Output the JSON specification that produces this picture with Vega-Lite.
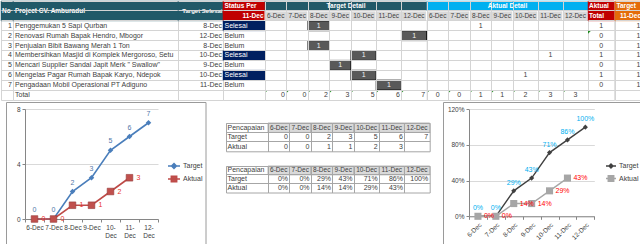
{
"$schema": "https://vega.github.io/schema/vega-lite/v6.json",
"padding": 0,
"background": "#FFFFFF",
"spacing": 0,
"bounds": "full",
"resolve": {"scale": {"color": "independent"}, "legend": {"color": "independent"}},
"config": {"view": {"stroke": null}, "font": "Liberation Sans", "text": {"fontSize": 7, "baseline": "middle"}},
"datasets": {
 "tbl": [
  {"r":"1","no":"1","project":"Penggemukan 5 Sapi Qurban","target":"8-Dec","status":"Selesai","ak":"1","tg":"1"},
  {"r":"2","no":"2","project":"Renovasi Rumah Bapak Hendro, Mbogor","target":"12-Dec","status":"Belum","ak":"0","tg":"1"},
  {"r":"3","no":"3","project":"Penjualan Bibit Bawang Merah 1 Ton","target":"8-Dec","status":"Belum","ak":"0","tg":"1"},
  {"r":"4","no":"4","project":"Membersihkan Masjid di Komplek Mergoroso, Setu","target":"10-Dec","status":"Selesai","ak":"1","tg":"1"},
  {"r":"5","no":"5","project":"Mencari Supplier Sandal Japit Merk \" Swallow\"","target":"9-Dec","status":"Belum","ak":"0","tg":"1"},
  {"r":"6","no":"6","project":"Mengelas Pagar Rumah Bapak Karyo, Ndepok","target":"10-Dec","status":"Selesai","ak":"1","tg":"1"},
  {"r":"7","no":"7","project":"Pengadaan Mobil Operasional PT Adiguno","target":"11-Dec","status":"Belum","ak":"0","tg":"1"},
  {"r":"Total","no":"","project":"Total","target":"","status":"","ak":"","tg":""}
 ],
 "days": [{"d":"6-Dec"},{"d":"7-Dec"},{"d":"8-Dec"},{"d":"9-Dec"},{"d":"10-Dec"},{"d":"11-Dec"},{"d":"12-Dec"}],
 "td": [
  {"r":"1","d":"8-Dec","v":"1"},{"r":"2","d":"12-Dec","v":"1"},{"r":"3","d":"8-Dec","v":"1"},{"r":"4","d":"10-Dec","v":"1"},
  {"r":"5","d":"9-Dec","v":"1"},{"r":"6","d":"10-Dec","v":"1"},{"r":"7","d":"11-Dec","v":"1"},
  {"r":"Total","d":"6-Dec","v":"0"},{"r":"Total","d":"7-Dec","v":"0"},{"r":"Total","d":"8-Dec","v":"2"},{"r":"Total","d":"9-Dec","v":"3"},
  {"r":"Total","d":"10-Dec","v":"5"},{"r":"Total","d":"11-Dec","v":"6"},{"r":"Total","d":"12-Dec","v":"7"}
 ],
 "ad": [
  {"r":"1","d":"8-Dec","v":"1"},{"r":"4","d":"11-Dec","v":"1"},{"r":"6","d":"10-Dec","v":"1"},
  {"r":"Total","d":"6-Dec","v":"0"},{"r":"Total","d":"7-Dec","v":"0"},{"r":"Total","d":"8-Dec","v":"1"},{"r":"Total","d":"9-Dec","v":"1"},
  {"r":"Total","d":"10-Dec","v":"2"},{"r":"Total","d":"11-Dec","v":"3"},{"r":"Total","d":"12-Dec","v":"3"}
 ],
 "ach": [
  {"s":"Target","d":"6-Dec","n":0,"p":0},{"s":"Target","d":"7-Dec","n":0,"p":0},{"s":"Target","d":"8-Dec","n":2,"p":0.2857},
  {"s":"Target","d":"9-Dec","n":3,"p":0.4286},{"s":"Target","d":"10-Dec","n":5,"p":0.7143},{"s":"Target","d":"11-Dec","n":6,"p":0.8571},
  {"s":"Target","d":"12-Dec","n":7,"p":1},
  {"s":"Aktual","d":"6-Dec","n":0,"p":0},{"s":"Aktual","d":"7-Dec","n":0,"p":0},{"s":"Aktual","d":"8-Dec","n":1,"p":0.1429},
  {"s":"Aktual","d":"9-Dec","n":1,"p":0.1429},{"s":"Aktual","d":"10-Dec","n":2,"p":0.2857},{"s":"Aktual","d":"11-Dec","n":3,"p":0.4286}
 ]
},
"vconcat": [
{
 "hconcat": [
  {"width": 12, "height": 99, "view": {"stroke": "#D4D4D4"}, "layer": [
   {"data": {"values": [{"r":"h1"},{"r":"h2"}]}, "mark": {"type":"rect","fill":"#215968","stroke":"#215968","strokeWidth":0.5},
    "encoding": {"y": {"field":"r","type":"nominal","scale":{"type":"band","domain":["h1","h2","1","2","3","4","5","6","7","Total"],"paddingInner":0,"paddingOuter":0},"axis":{"grid":true,"bandPosition":0,"labels":false,"ticks":false,"domain":false,"title":null,"gridColor":"#D4D4D4"}}}},
   {"data": {"values": [{"t":"No"}]}, "mark": {"type":"text","color":"#FFFFFF","fontWeight":"bold","fontSize":6.5,"align":"left","dx":1},
    "encoding": {"x": {"datum":"c","type":"nominal","bandPosition":0,"scale":{"type":"band","paddingInner":0,"paddingOuter":0},"axis":null},
     "y": {"datum":"h2","type":"nominal","bandPosition":0,"scale":{"type":"band","domain":["h1","h2","1","2","3","4","5","6","7","Total"],"paddingInner":0,"paddingOuter":0},"axis":{"grid":true,"bandPosition":0,"labels":false,"ticks":false,"domain":false,"title":null,"gridColor":"#D4D4D4"}},
     "text": {"field":"t"}}},
   {"data": {"name":"tbl"}, "mark": {"type":"text","align":"right","dx":-1,"color":"#404040"},
    "encoding": {"x": {"datum":"c","type":"nominal","bandPosition":1,"scale":{"type":"band","paddingInner":0,"paddingOuter":0},"axis":null},
     "y": {"field":"r","type":"nominal","scale":{"type":"band","domain":["h1","h2","1","2","3","4","5","6","7","Total"],"paddingInner":0,"paddingOuter":0},"axis":{"grid":true,"bandPosition":0,"labels":false,"ticks":false,"domain":false,"title":null,"gridColor":"#D4D4D4"}},
     "text": {"field":"no"}}}
  ]},
  {"width": 165, "height": 99, "view": {"stroke": "#D4D4D4"}, "layer": [
   {"data": {"values": [{"r":"h1"},{"r":"h2"}]}, "mark": {"type":"rect","fill":"#215968","stroke":"#215968","strokeWidth":0.5},
    "encoding": {"y": {"field":"r","type":"nominal","scale":{"type":"band","domain":["h1","h2","1","2","3","4","5","6","7","Total"],"paddingInner":0,"paddingOuter":0},"axis":{"grid":true,"bandPosition":0,"labels":false,"ticks":false,"domain":false,"title":null,"gridColor":"#D4D4D4"}}}},
   {"data": {"values": [{"t":"Project CV. Amburadul"}]}, "mark": {"type":"text","color":"#FFFFFF","fontWeight":"bold","fontSize":6.5,"align":"left","dx":2},
    "encoding": {"x": {"datum":"c","type":"nominal","bandPosition":0,"scale":{"type":"band","paddingInner":0,"paddingOuter":0},"axis":null},
     "y": {"datum":"h2","type":"nominal","bandPosition":0,"scale":{"type":"band","domain":["h1","h2","1","2","3","4","5","6","7","Total"],"paddingInner":0,"paddingOuter":0},"axis":{"grid":true,"bandPosition":0,"labels":false,"ticks":false,"domain":false,"title":null,"gridColor":"#D4D4D4"}},
     "text": {"field":"t"}}},
   {"data": {"name":"tbl"}, "mark": {"type":"text","align":"left","dx":2,"color":"#404040"},
    "encoding": {"x": {"datum":"c","type":"nominal","bandPosition":0,"scale":{"type":"band","paddingInner":0,"paddingOuter":0},"axis":null},
     "y": {"field":"r","type":"nominal","scale":{"type":"band","domain":["h1","h2","1","2","3","4","5","6","7","Total"],"paddingInner":0,"paddingOuter":0},"axis":{"grid":true,"bandPosition":0,"labels":false,"ticks":false,"domain":false,"title":null,"gridColor":"#D4D4D4"}},
     "text": {"field":"project"}}}
  ]},
  {"width": 45, "height": 99, "view": {"stroke": "#D4D4D4"}, "layer": [
   {"data": {"values": [{"r":"h1"},{"r":"h2"}]}, "mark": {"type":"rect","fill":"#215968","stroke":"#215968","strokeWidth":0.5},
    "encoding": {"y": {"field":"r","type":"nominal","scale":{"type":"band","domain":["h1","h2","1","2","3","4","5","6","7","Total"],"paddingInner":0,"paddingOuter":0},"axis":{"grid":true,"bandPosition":0,"labels":false,"ticks":false,"domain":false,"title":null,"gridColor":"#D4D4D4"}}}},
   {"data": {"values": [{"t":"Target Selesai"}]}, "mark": {"type":"text","color":"#FFFFFF","fontWeight":"bold","fontSize":6,"align":"right","dx":-0.5},
    "encoding": {"x": {"datum":"c","type":"nominal","bandPosition":1,"scale":{"type":"band","paddingInner":0,"paddingOuter":0},"axis":null},
     "y": {"datum":"h2","type":"nominal","bandPosition":0,"scale":{"type":"band","domain":["h1","h2","1","2","3","4","5","6","7","Total"],"paddingInner":0,"paddingOuter":0},"axis":{"grid":true,"bandPosition":0,"labels":false,"ticks":false,"domain":false,"title":null,"gridColor":"#D4D4D4"}},
     "text": {"field":"t"}}},
   {"data": {"name":"tbl"}, "mark": {"type":"text","align":"right","dx":-1,"color":"#404040"},
    "encoding": {"x": {"datum":"c","type":"nominal","bandPosition":1,"scale":{"type":"band","paddingInner":0,"paddingOuter":0},"axis":null},
     "y": {"field":"r","type":"nominal","scale":{"type":"band","domain":["h1","h2","1","2","3","4","5","6","7","Total"],"paddingInner":0,"paddingOuter":0},"axis":{"grid":true,"bandPosition":0,"labels":false,"ticks":false,"domain":false,"title":null,"gridColor":"#D4D4D4"}},
     "text": {"field":"target"}}}
  ]},
  {"width": 42, "height": 99, "view": {"stroke": "#D4D4D4"}, "layer": [
   {"data": {"values": [{"r":"h1"},{"r":"h2"}]}, "mark": {"type":"rect","fill":"#C00000","stroke":"#C00000","strokeWidth":0.5},
    "encoding": {"y": {"field":"r","type":"nominal","scale":{"type":"band","domain":["h1","h2","1","2","3","4","5","6","7","Total"],"paddingInner":0,"paddingOuter":0},"axis":{"grid":true,"bandPosition":0,"labels":false,"ticks":false,"domain":false,"title":null,"gridColor":"#D4D4D4"}}}},
   {"data": {"values": [{"t":"Status Per"}]}, "mark": {"type":"text","color":"#FFFFFF","fontWeight":"bold","fontSize":6.5,"align":"left","dx":1.5},
    "encoding": {"x": {"datum":"c","type":"nominal","bandPosition":0,"scale":{"type":"band","paddingInner":0,"paddingOuter":0},"axis":null},
     "y": {"datum":"h1","type":"nominal","scale":{"type":"band","domain":["h1","h2","1","2","3","4","5","6","7","Total"],"paddingInner":0,"paddingOuter":0},"axis":{"grid":true,"bandPosition":0,"labels":false,"ticks":false,"domain":false,"title":null,"gridColor":"#D4D4D4"}},
     "text": {"field":"t"}}},
   {"data": {"values": [{"t":"11-Dec"}]}, "mark": {"type":"text","color":"#FFFFFF","fontWeight":"bold","fontSize":6.5,"align":"right","dx":-1.5},
    "encoding": {"x": {"datum":"c","type":"nominal","bandPosition":1,"scale":{"type":"band","paddingInner":0,"paddingOuter":0},"axis":null},
     "y": {"datum":"h2","type":"nominal","scale":{"type":"band","domain":["h1","h2","1","2","3","4","5","6","7","Total"],"paddingInner":0,"paddingOuter":0},"axis":{"grid":true,"bandPosition":0,"labels":false,"ticks":false,"domain":false,"title":null,"gridColor":"#D4D4D4"}},
     "text": {"field":"t"}}},
   {"data": {"name":"tbl"}, "transform": [{"filter":"datum.status === 'Selesai'"}], "mark": {"type":"rect","fill":"#002060","stroke":"#002060","strokeWidth":0.5},
    "encoding": {"y": {"field":"r","type":"nominal","scale":{"type":"band","domain":["h1","h2","1","2","3","4","5","6","7","Total"],"paddingInner":0,"paddingOuter":0},"axis":{"grid":true,"bandPosition":0,"labels":false,"ticks":false,"domain":false,"title":null,"gridColor":"#D4D4D4"}}}},
   {"data": {"name":"tbl"}, "mark": {"type":"text","align":"left","dx":1.5},
    "encoding": {"x": {"datum":"c","type":"nominal","bandPosition":0,"scale":{"type":"band","paddingInner":0,"paddingOuter":0},"axis":null},
     "y": {"field":"r","type":"nominal","scale":{"type":"band","domain":["h1","h2","1","2","3","4","5","6","7","Total"],"paddingInner":0,"paddingOuter":0},"axis":{"grid":true,"bandPosition":0,"labels":false,"ticks":false,"domain":false,"title":null,"gridColor":"#D4D4D4"}},
     "color": {"condition": {"test": "datum.status === 'Selesai'", "value": "#FFFFFF"}, "value": "#404040"},
     "text": {"field":"status"}}}
  ]},
  {"width": 86, "height": 99, "view": {"stroke": "#D4D4D4"}, "layer": [
   {"data": {"name":"days"}, "transform": [{"filter": {"field":"d","oneOf":["6-Dec","7-Dec","8-Dec","9-Dec"]}}], "mark": {"type":"rect","fill":"#215968","stroke":"#215968","strokeWidth":0.5},
    "encoding": {"x": {"field":"d","type":"nominal","scale":{"type":"band","domain":["6-Dec","7-Dec","8-Dec","9-Dec"],"paddingInner":0,"paddingOuter":0},"axis":{"grid":true,"bandPosition":0,"labels":false,"ticks":false,"domain":false,"title":null,"gridColor":"#D4D4D4"}},
     "y": {"datum":"h1","type":"nominal","scale":{"type":"band","domain":["h1","h2","1","2","3","4","5","6","7","Total"],"paddingInner":0,"paddingOuter":0},"axis":{"grid":true,"bandPosition":0,"labels":false,"ticks":false,"domain":false,"title":null,"gridColor":"#D4D4D4"}}}},
   {"data": {"name":"days"}, "transform": [{"filter": {"field":"d","oneOf":["6-Dec","7-Dec","8-Dec","9-Dec"]}}], "mark": {"type":"rect","fill":"#D9D9D9","stroke":"#FFFFFF","strokeWidth":1},
    "encoding": {"x": {"field":"d","type":"nominal","scale":{"type":"band","domain":["6-Dec","7-Dec","8-Dec","9-Dec"],"paddingInner":0,"paddingOuter":0},"axis":{"grid":true,"bandPosition":0,"labels":false,"ticks":false,"domain":false,"title":null,"gridColor":"#D4D4D4"}},
     "y": {"datum":"h2","type":"nominal","scale":{"type":"band","domain":["h1","h2","1","2","3","4","5","6","7","Total"],"paddingInner":0,"paddingOuter":0},"axis":{"grid":true,"bandPosition":0,"labels":false,"ticks":false,"domain":false,"title":null,"gridColor":"#D4D4D4"}}}},
   {"data": {"name":"days"}, "transform": [{"filter": {"field":"d","oneOf":["6-Dec","7-Dec","8-Dec","9-Dec"]}}], "mark": {"type":"text","fontSize":6.5,"color":"#404040"},
    "encoding": {"x": {"field":"d","type":"nominal","scale":{"type":"band","domain":["6-Dec","7-Dec","8-Dec","9-Dec"],"paddingInner":0,"paddingOuter":0},"axis":{"grid":true,"bandPosition":0,"labels":false,"ticks":false,"domain":false,"title":null,"gridColor":"#D4D4D4"}},
     "y": {"datum":"h2","type":"nominal","scale":{"type":"band","domain":["h1","h2","1","2","3","4","5","6","7","Total"],"paddingInner":0,"paddingOuter":0},"axis":{"grid":true,"bandPosition":0,"labels":false,"ticks":false,"domain":false,"title":null,"gridColor":"#D4D4D4"}},
     "text": {"field":"d"}}},
   {"data": {"name":"td"}, "transform": [{"filter": {"field":"d","oneOf":["6-Dec","7-Dec","8-Dec","9-Dec"]}}, {"filter":"datum.r !== 'Total'"}], "mark": {"type":"rect","fill":"#595959","stroke":"#000000","strokeWidth":1},
    "encoding": {"x": {"field":"d","type":"nominal","scale":{"type":"band","domain":["6-Dec","7-Dec","8-Dec","9-Dec"],"paddingInner":0,"paddingOuter":0},"axis":{"grid":true,"bandPosition":0,"labels":false,"ticks":false,"domain":false,"title":null,"gridColor":"#D4D4D4"}},
     "y": {"field":"r","type":"nominal","scale":{"type":"band","domain":["h1","h2","1","2","3","4","5","6","7","Total"],"paddingInner":0,"paddingOuter":0},"axis":{"grid":true,"bandPosition":0,"labels":false,"ticks":false,"domain":false,"title":null,"gridColor":"#D4D4D4"}}}},
   {"data": {"name":"td"}, "transform": [{"filter": {"field":"d","oneOf":["6-Dec","7-Dec","8-Dec","9-Dec"]}}, {"filter":"datum.r !== 'Total'"}], "mark": {"type":"text","color":"#F2F2F2"},
    "encoding": {"x": {"field":"d","type":"nominal","scale":{"type":"band","domain":["6-Dec","7-Dec","8-Dec","9-Dec"],"paddingInner":0,"paddingOuter":0},"axis":{"grid":true,"bandPosition":0,"labels":false,"ticks":false,"domain":false,"title":null,"gridColor":"#D4D4D4"}},
     "y": {"field":"r","type":"nominal","scale":{"type":"band","domain":["h1","h2","1","2","3","4","5","6","7","Total"],"paddingInner":0,"paddingOuter":0},"axis":{"grid":true,"bandPosition":0,"labels":false,"ticks":false,"domain":false,"title":null,"gridColor":"#D4D4D4"}},
     "text": {"field":"v"}}},
   {"data": {"name":"td"}, "transform": [{"filter": {"field":"d","oneOf":["6-Dec","7-Dec","8-Dec","9-Dec"]}}, {"filter":"datum.r === 'Total'"}], "mark": {"type":"text","color":"#404040","align":"right","dx":-1.5},
    "encoding": {"x": {"field":"d","type":"nominal","bandPosition":1,"scale":{"type":"band","domain":["6-Dec","7-Dec","8-Dec","9-Dec"],"paddingInner":0,"paddingOuter":0},"axis":{"grid":true,"bandPosition":0,"labels":false,"ticks":false,"domain":false,"title":null,"gridColor":"#D4D4D4"}},
     "y": {"field":"r","type":"nominal","scale":{"type":"band","domain":["h1","h2","1","2","3","4","5","6","7","Total"],"paddingInner":0,"paddingOuter":0},"axis":{"grid":true,"bandPosition":0,"labels":false,"ticks":false,"domain":false,"title":null,"gridColor":"#D4D4D4"}},
     "text": {"field":"v"}}},
   {"data": {"name":"days"}, "transform": [{"filter": {"field":"d","oneOf":["6-Dec","7-Dec","8-Dec","9-Dec"]}}], "mark": {"type":"point","shape":"M0,0L1,0L0,1Z","size":36,"filled":true,"color":"#1E8C1E","opacity":1},
    "encoding": {"x": {"field":"d","type":"nominal","bandPosition":0,"scale":{"type":"band","domain":["6-Dec","7-Dec","8-Dec","9-Dec"],"paddingInner":0,"paddingOuter":0},"axis":{"grid":true,"bandPosition":0,"labels":false,"ticks":false,"domain":false,"title":null,"gridColor":"#D4D4D4"}},
     "y": {"datum":"Total","type":"nominal","bandPosition":0,"scale":{"type":"band","domain":["h1","h2","1","2","3","4","5","6","7","Total"],"paddingInner":0,"paddingOuter":0},"axis":{"grid":true,"bandPosition":0,"labels":false,"ticks":false,"domain":false,"title":null,"gridColor":"#D4D4D4"}}}}
  ]},
  {"width": 75.7, "height": 99, "view": {"stroke": "#D4D4D4"}, "layer": [
   {"data": {"name":"days"}, "transform": [{"filter": {"field":"d","oneOf":["10-Dec","11-Dec","12-Dec"]}}], "mark": {"type":"rect","fill":"#215968","stroke":"#215968","strokeWidth":0.5},
    "encoding": {"x": {"field":"d","type":"nominal","scale":{"type":"band","domain":["10-Dec","11-Dec","12-Dec"],"paddingInner":0,"paddingOuter":0},"axis":{"grid":true,"bandPosition":0,"labels":false,"ticks":false,"domain":false,"title":null,"gridColor":"#D4D4D4"}},
     "y": {"datum":"h1","type":"nominal","scale":{"type":"band","domain":["h1","h2","1","2","3","4","5","6","7","Total"],"paddingInner":0,"paddingOuter":0},"axis":{"grid":true,"bandPosition":0,"labels":false,"ticks":false,"domain":false,"title":null,"gridColor":"#D4D4D4"}}}},
   {"data": {"name":"days"}, "transform": [{"filter": {"field":"d","oneOf":["10-Dec","11-Dec","12-Dec"]}}], "mark": {"type":"rect","fill":"#D9D9D9","stroke":"#FFFFFF","strokeWidth":1},
    "encoding": {"x": {"field":"d","type":"nominal","scale":{"type":"band","domain":["10-Dec","11-Dec","12-Dec"],"paddingInner":0,"paddingOuter":0},"axis":{"grid":true,"bandPosition":0,"labels":false,"ticks":false,"domain":false,"title":null,"gridColor":"#D4D4D4"}},
     "y": {"datum":"h2","type":"nominal","scale":{"type":"band","domain":["h1","h2","1","2","3","4","5","6","7","Total"],"paddingInner":0,"paddingOuter":0},"axis":{"grid":true,"bandPosition":0,"labels":false,"ticks":false,"domain":false,"title":null,"gridColor":"#D4D4D4"}}}},
   {"data": {"name":"days"}, "transform": [{"filter": {"field":"d","oneOf":["10-Dec","11-Dec","12-Dec"]}}], "mark": {"type":"text","fontSize":6.5,"color":"#404040"},
    "encoding": {"x": {"field":"d","type":"nominal","scale":{"type":"band","domain":["10-Dec","11-Dec","12-Dec"],"paddingInner":0,"paddingOuter":0},"axis":{"grid":true,"bandPosition":0,"labels":false,"ticks":false,"domain":false,"title":null,"gridColor":"#D4D4D4"}},
     "y": {"datum":"h2","type":"nominal","scale":{"type":"band","domain":["h1","h2","1","2","3","4","5","6","7","Total"],"paddingInner":0,"paddingOuter":0},"axis":{"grid":true,"bandPosition":0,"labels":false,"ticks":false,"domain":false,"title":null,"gridColor":"#D4D4D4"}},
     "text": {"field":"d"}}},
   {"data": {"name":"td"}, "transform": [{"filter": {"field":"d","oneOf":["10-Dec","11-Dec","12-Dec"]}}, {"filter":"datum.r !== 'Total'"}], "mark": {"type":"rect","fill":"#595959","stroke":"#000000","strokeWidth":1},
    "encoding": {"x": {"field":"d","type":"nominal","scale":{"type":"band","domain":["10-Dec","11-Dec","12-Dec"],"paddingInner":0,"paddingOuter":0},"axis":{"grid":true,"bandPosition":0,"labels":false,"ticks":false,"domain":false,"title":null,"gridColor":"#D4D4D4"}},
     "y": {"field":"r","type":"nominal","scale":{"type":"band","domain":["h1","h2","1","2","3","4","5","6","7","Total"],"paddingInner":0,"paddingOuter":0},"axis":{"grid":true,"bandPosition":0,"labels":false,"ticks":false,"domain":false,"title":null,"gridColor":"#D4D4D4"}}}},
   {"data": {"name":"td"}, "transform": [{"filter": {"field":"d","oneOf":["10-Dec","11-Dec","12-Dec"]}}, {"filter":"datum.r !== 'Total'"}], "mark": {"type":"text","color":"#F2F2F2"},
    "encoding": {"x": {"field":"d","type":"nominal","scale":{"type":"band","domain":["10-Dec","11-Dec","12-Dec"],"paddingInner":0,"paddingOuter":0},"axis":{"grid":true,"bandPosition":0,"labels":false,"ticks":false,"domain":false,"title":null,"gridColor":"#D4D4D4"}},
     "y": {"field":"r","type":"nominal","scale":{"type":"band","domain":["h1","h2","1","2","3","4","5","6","7","Total"],"paddingInner":0,"paddingOuter":0},"axis":{"grid":true,"bandPosition":0,"labels":false,"ticks":false,"domain":false,"title":null,"gridColor":"#D4D4D4"}},
     "text": {"field":"v"}}},
   {"data": {"name":"td"}, "transform": [{"filter": {"field":"d","oneOf":["10-Dec","11-Dec","12-Dec"]}}, {"filter":"datum.r === 'Total'"}], "mark": {"type":"text","color":"#404040","align":"right","dx":-1.5},
    "encoding": {"x": {"field":"d","type":"nominal","bandPosition":1,"scale":{"type":"band","domain":["10-Dec","11-Dec","12-Dec"],"paddingInner":0,"paddingOuter":0},"axis":{"grid":true,"bandPosition":0,"labels":false,"ticks":false,"domain":false,"title":null,"gridColor":"#D4D4D4"}},
     "y": {"field":"r","type":"nominal","scale":{"type":"band","domain":["h1","h2","1","2","3","4","5","6","7","Total"],"paddingInner":0,"paddingOuter":0},"axis":{"grid":true,"bandPosition":0,"labels":false,"ticks":false,"domain":false,"title":null,"gridColor":"#D4D4D4"}},
     "text": {"field":"v"}}},
   {"data": {"name":"days"}, "transform": [{"filter": {"field":"d","oneOf":["10-Dec","11-Dec","12-Dec"]}}], "mark": {"type":"point","shape":"M0,0L1,0L0,1Z","size":36,"filled":true,"color":"#1E8C1E","opacity":1},
    "encoding": {"x": {"field":"d","type":"nominal","bandPosition":0,"scale":{"type":"band","domain":["10-Dec","11-Dec","12-Dec"],"paddingInner":0,"paddingOuter":0},"axis":{"grid":true,"bandPosition":0,"labels":false,"ticks":false,"domain":false,"title":null,"gridColor":"#D4D4D4"}},
     "y": {"datum":"Total","type":"nominal","bandPosition":0,"scale":{"type":"band","domain":["h1","h2","1","2","3","4","5","6","7","Total"],"paddingInner":0,"paddingOuter":0},"axis":{"grid":true,"bandPosition":0,"labels":false,"ticks":false,"domain":false,"title":null,"gridColor":"#D4D4D4"}}}},
   {"data": {"values": [{"t":"Target Detail"}]}, "mark": {"type":"text","color":"#FFFFFF","fontWeight":"bold","fontSize":6.5,"dx":-5},
    "encoding": {"x": {"datum":"10-Dec","type":"nominal","bandPosition":0,"scale":{"type":"band","domain":["10-Dec","11-Dec","12-Dec"],"paddingInner":0,"paddingOuter":0},"axis":{"grid":true,"bandPosition":0,"labels":false,"ticks":false,"domain":false,"title":null,"gridColor":"#D4D4D4"}},
     "y": {"datum":"h1","type":"nominal","scale":{"type":"band","domain":["h1","h2","1","2","3","4","5","6","7","Total"],"paddingInner":0,"paddingOuter":0},"axis":{"grid":true,"bandPosition":0,"labels":false,"ticks":false,"domain":false,"title":null,"gridColor":"#D4D4D4"}},
     "text": {"field":"t"}}}
  ]},
  {"width": 86, "height": 99, "view": {"stroke": "#D4D4D4"}, "layer": [
   {"data": {"name":"days"}, "transform": [{"filter": {"field":"d","oneOf":["6-Dec","7-Dec","8-Dec","9-Dec"]}}], "mark": {"type":"rect","fill":"#00B0F0","stroke":"#00B0F0","strokeWidth":0.5},
    "encoding": {"x": {"field":"d","type":"nominal","scale":{"type":"band","domain":["6-Dec","7-Dec","8-Dec","9-Dec"],"paddingInner":0,"paddingOuter":0},"axis":{"grid":true,"bandPosition":0,"labels":false,"ticks":false,"domain":false,"title":null,"gridColor":"#D4D4D4"}},
     "y": {"datum":"h1","type":"nominal","scale":{"type":"band","domain":["h1","h2","1","2","3","4","5","6","7","Total"],"paddingInner":0,"paddingOuter":0},"axis":{"grid":true,"bandPosition":0,"labels":false,"ticks":false,"domain":false,"title":null,"gridColor":"#D4D4D4"}}}},
   {"data": {"name":"days"}, "transform": [{"filter": {"field":"d","oneOf":["6-Dec","7-Dec","8-Dec","9-Dec"]}}], "mark": {"type":"rect","fill":"#D9D9D9","stroke":"#FFFFFF","strokeWidth":1},
    "encoding": {"x": {"field":"d","type":"nominal","scale":{"type":"band","domain":["6-Dec","7-Dec","8-Dec","9-Dec"],"paddingInner":0,"paddingOuter":0},"axis":{"grid":true,"bandPosition":0,"labels":false,"ticks":false,"domain":false,"title":null,"gridColor":"#D4D4D4"}},
     "y": {"datum":"h2","type":"nominal","scale":{"type":"band","domain":["h1","h2","1","2","3","4","5","6","7","Total"],"paddingInner":0,"paddingOuter":0},"axis":{"grid":true,"bandPosition":0,"labels":false,"ticks":false,"domain":false,"title":null,"gridColor":"#D4D4D4"}}}},
   {"data": {"name":"days"}, "transform": [{"filter": {"field":"d","oneOf":["6-Dec","7-Dec","8-Dec","9-Dec"]}}], "mark": {"type":"text","fontSize":6.5,"color":"#404040"},
    "encoding": {"x": {"field":"d","type":"nominal","scale":{"type":"band","domain":["6-Dec","7-Dec","8-Dec","9-Dec"],"paddingInner":0,"paddingOuter":0},"axis":{"grid":true,"bandPosition":0,"labels":false,"ticks":false,"domain":false,"title":null,"gridColor":"#D4D4D4"}},
     "y": {"datum":"h2","type":"nominal","scale":{"type":"band","domain":["h1","h2","1","2","3","4","5","6","7","Total"],"paddingInner":0,"paddingOuter":0},"axis":{"grid":true,"bandPosition":0,"labels":false,"ticks":false,"domain":false,"title":null,"gridColor":"#D4D4D4"}},
     "text": {"field":"d"}}},
   {"data": {"name":"ad"}, "transform": [{"filter": {"field":"d","oneOf":["6-Dec","7-Dec","8-Dec","9-Dec"]}}], "mark": {"type":"text","color":"#404040"},
    "encoding": {"x": {"field":"d","type":"nominal","scale":{"type":"band","domain":["6-Dec","7-Dec","8-Dec","9-Dec"],"paddingInner":0,"paddingOuter":0},"axis":{"grid":true,"bandPosition":0,"labels":false,"ticks":false,"domain":false,"title":null,"gridColor":"#D4D4D4"}},
     "y": {"field":"r","type":"nominal","scale":{"type":"band","domain":["h1","h2","1","2","3","4","5","6","7","Total"],"paddingInner":0,"paddingOuter":0},"axis":{"grid":true,"bandPosition":0,"labels":false,"ticks":false,"domain":false,"title":null,"gridColor":"#D4D4D4"}},
     "text": {"field":"v"}}},
   {"data": {"name":"days"}, "transform": [{"filter": {"field":"d","oneOf":["6-Dec","7-Dec","8-Dec","9-Dec"]}}], "mark": {"type":"point","shape":"M0,0L1,0L0,1Z","size":36,"filled":true,"color":"#1E8C1E","opacity":1},
    "encoding": {"x": {"field":"d","type":"nominal","bandPosition":0,"scale":{"type":"band","domain":["6-Dec","7-Dec","8-Dec","9-Dec"],"paddingInner":0,"paddingOuter":0},"axis":{"grid":true,"bandPosition":0,"labels":false,"ticks":false,"domain":false,"title":null,"gridColor":"#D4D4D4"}},
     "y": {"datum":"Total","type":"nominal","bandPosition":0,"scale":{"type":"band","domain":["h1","h2","1","2","3","4","5","6","7","Total"],"paddingInner":0,"paddingOuter":0},"axis":{"grid":true,"bandPosition":0,"labels":false,"ticks":false,"domain":false,"title":null,"gridColor":"#D4D4D4"}}}}
  ]},
  {"width": 75, "height": 99, "view": {"stroke": "#D4D4D4"}, "layer": [
   {"data": {"name":"days"}, "transform": [{"filter": {"field":"d","oneOf":["10-Dec","11-Dec","12-Dec"]}}], "mark": {"type":"rect","fill":"#00B0F0","stroke":"#00B0F0","strokeWidth":0.5},
    "encoding": {"x": {"field":"d","type":"nominal","scale":{"type":"band","domain":["10-Dec","11-Dec","12-Dec"],"paddingInner":0,"paddingOuter":0},"axis":{"grid":true,"bandPosition":0,"labels":false,"ticks":false,"domain":false,"title":null,"gridColor":"#D4D4D4"}},
     "y": {"datum":"h1","type":"nominal","scale":{"type":"band","domain":["h1","h2","1","2","3","4","5","6","7","Total"],"paddingInner":0,"paddingOuter":0},"axis":{"grid":true,"bandPosition":0,"labels":false,"ticks":false,"domain":false,"title":null,"gridColor":"#D4D4D4"}}}},
   {"data": {"name":"days"}, "transform": [{"filter": {"field":"d","oneOf":["10-Dec","11-Dec","12-Dec"]}}], "mark": {"type":"rect","fill":"#D9D9D9","stroke":"#FFFFFF","strokeWidth":1},
    "encoding": {"x": {"field":"d","type":"nominal","scale":{"type":"band","domain":["10-Dec","11-Dec","12-Dec"],"paddingInner":0,"paddingOuter":0},"axis":{"grid":true,"bandPosition":0,"labels":false,"ticks":false,"domain":false,"title":null,"gridColor":"#D4D4D4"}},
     "y": {"datum":"h2","type":"nominal","scale":{"type":"band","domain":["h1","h2","1","2","3","4","5","6","7","Total"],"paddingInner":0,"paddingOuter":0},"axis":{"grid":true,"bandPosition":0,"labels":false,"ticks":false,"domain":false,"title":null,"gridColor":"#D4D4D4"}}}},
   {"data": {"name":"days"}, "transform": [{"filter": {"field":"d","oneOf":["10-Dec","11-Dec","12-Dec"]}}], "mark": {"type":"text","fontSize":6.5,"color":"#404040"},
    "encoding": {"x": {"field":"d","type":"nominal","scale":{"type":"band","domain":["10-Dec","11-Dec","12-Dec"],"paddingInner":0,"paddingOuter":0},"axis":{"grid":true,"bandPosition":0,"labels":false,"ticks":false,"domain":false,"title":null,"gridColor":"#D4D4D4"}},
     "y": {"datum":"h2","type":"nominal","scale":{"type":"band","domain":["h1","h2","1","2","3","4","5","6","7","Total"],"paddingInner":0,"paddingOuter":0},"axis":{"grid":true,"bandPosition":0,"labels":false,"ticks":false,"domain":false,"title":null,"gridColor":"#D4D4D4"}},
     "text": {"field":"d"}}},
   {"data": {"name":"ad"}, "transform": [{"filter": {"field":"d","oneOf":["10-Dec","11-Dec","12-Dec"]}}], "mark": {"type":"text","color":"#404040"},
    "encoding": {"x": {"field":"d","type":"nominal","scale":{"type":"band","domain":["10-Dec","11-Dec","12-Dec"],"paddingInner":0,"paddingOuter":0},"axis":{"grid":true,"bandPosition":0,"labels":false,"ticks":false,"domain":false,"title":null,"gridColor":"#D4D4D4"}},
     "y": {"field":"r","type":"nominal","scale":{"type":"band","domain":["h1","h2","1","2","3","4","5","6","7","Total"],"paddingInner":0,"paddingOuter":0},"axis":{"grid":true,"bandPosition":0,"labels":false,"ticks":false,"domain":false,"title":null,"gridColor":"#D4D4D4"}},
     "text": {"field":"v"}}},
   {"data": {"name":"days"}, "transform": [{"filter": {"field":"d","oneOf":["10-Dec","11-Dec","12-Dec"]}}], "mark": {"type":"point","shape":"M0,0L1,0L0,1Z","size":36,"filled":true,"color":"#1E8C1E","opacity":1},
    "encoding": {"x": {"field":"d","type":"nominal","bandPosition":0,"scale":{"type":"band","domain":["10-Dec","11-Dec","12-Dec"],"paddingInner":0,"paddingOuter":0},"axis":{"grid":true,"bandPosition":0,"labels":false,"ticks":false,"domain":false,"title":null,"gridColor":"#D4D4D4"}},
     "y": {"datum":"Total","type":"nominal","bandPosition":0,"scale":{"type":"band","domain":["h1","h2","1","2","3","4","5","6","7","Total"],"paddingInner":0,"paddingOuter":0},"axis":{"grid":true,"bandPosition":0,"labels":false,"ticks":false,"domain":false,"title":null,"gridColor":"#D4D4D4"}}}},
   {"data": {"values": [{"t":"Aktual Detail"}]}, "mark": {"type":"text","color":"#FFFFFF","fontWeight":"bold","fontSize":6.5,"dx":-5.5},
    "encoding": {"x": {"datum":"10-Dec","type":"nominal","bandPosition":0,"scale":{"type":"band","domain":["10-Dec","11-Dec","12-Dec"],"paddingInner":0,"paddingOuter":0},"axis":{"grid":true,"bandPosition":0,"labels":false,"ticks":false,"domain":false,"title":null,"gridColor":"#D4D4D4"}},
     "y": {"datum":"h1","type":"nominal","scale":{"type":"band","domain":["h1","h2","1","2","3","4","5","6","7","Total"],"paddingInner":0,"paddingOuter":0},"axis":{"grid":true,"bandPosition":0,"labels":false,"ticks":false,"domain":false,"title":null,"gridColor":"#D4D4D4"}},
     "text": {"field":"t"}}}
  ]},
  {"width": 26.3, "height": 99, "view": {"stroke": "#D4D4D4"}, "layer": [
   {"data": {"values": [{"r":"h1"},{"r":"h2"}]}, "mark": {"type":"rect","fill":"#C00000","stroke":"#C00000","strokeWidth":0.5},
    "encoding": {"y": {"field":"r","type":"nominal","scale":{"type":"band","domain":["h1","h2","1","2","3","4","5","6","7","Total"],"paddingInner":0,"paddingOuter":0},"axis":{"grid":true,"bandPosition":0,"labels":false,"ticks":false,"domain":false,"title":null,"gridColor":"#D4D4D4"}}}},
   {"data": {"values": [{"r":"h1","t":"Aktual"},{"r":"h2","t":"Total"}]}, "mark": {"type":"text","color":"#FFFFFF","fontWeight":"bold","fontSize":6.5,"align":"left","dx":1},
    "encoding": {"x": {"datum":"c","type":"nominal","bandPosition":0,"scale":{"type":"band","paddingInner":0,"paddingOuter":0},"axis":null},
     "y": {"field":"r","type":"nominal","scale":{"type":"band","domain":["h1","h2","1","2","3","4","5","6","7","Total"],"paddingInner":0,"paddingOuter":0},"axis":{"grid":true,"bandPosition":0,"labels":false,"ticks":false,"domain":false,"title":null,"gridColor":"#D4D4D4"}},
     "text": {"field":"t"}}},
   {"data": {"name":"tbl"}, "mark": {"type":"text","color":"#404040"},
    "encoding": {"x": {"datum":"c","type":"nominal","bandPosition":0.5,"scale":{"type":"band","paddingInner":0,"paddingOuter":0},"axis":null},
     "y": {"field":"r","type":"nominal","scale":{"type":"band","domain":["h1","h2","1","2","3","4","5","6","7","Total"],"paddingInner":0,"paddingOuter":0},"axis":{"grid":true,"bandPosition":0,"labels":false,"ticks":false,"domain":false,"title":null,"gridColor":"#D4D4D4"}},
     "text": {"field":"ak"}}},
   {"data": {"values": [{"r":"2"}]}, "mark": {"type":"point","shape":"M0,0L1,0L0,1Z","size":36,"filled":true,"color":"#1E8C1E","opacity":1},
    "encoding": {"x": {"datum":"c","type":"nominal","bandPosition":0,"scale":{"type":"band","paddingInner":0,"paddingOuter":0},"axis":null},
     "y": {"field":"r","type":"nominal","bandPosition":0,"scale":{"type":"band","domain":["h1","h2","1","2","3","4","5","6","7","Total"],"paddingInner":0,"paddingOuter":0},"axis":{"grid":true,"bandPosition":0,"labels":false,"ticks":false,"domain":false,"title":null,"gridColor":"#D4D4D4"}}}}
  ]},
  {"width": 27, "height": 99, "view": {"stroke": "#D4D4D4"}, "layer": [
   {"data": {"values": [{"r":"h1"},{"r":"h2"}]}, "mark": {"type":"rect","fill":"#E46C0A","stroke":"#E46C0A","strokeWidth":0.5},
    "encoding": {"y": {"field":"r","type":"nominal","scale":{"type":"band","domain":["h1","h2","1","2","3","4","5","6","7","Total"],"paddingInner":0,"paddingOuter":0},"axis":{"grid":true,"bandPosition":0,"labels":false,"ticks":false,"domain":false,"title":null,"gridColor":"#D4D4D4"}}}},
   {"data": {"values": [{"t":"Target"}]}, "mark": {"type":"text","color":"#FFFFFF","fontWeight":"bold","fontSize":6.5,"align":"left","dx":1.5},
    "encoding": {"x": {"datum":"c","type":"nominal","bandPosition":0,"scale":{"type":"band","paddingInner":0,"paddingOuter":0},"axis":null},
     "y": {"datum":"h1","type":"nominal","scale":{"type":"band","domain":["h1","h2","1","2","3","4","5","6","7","Total"],"paddingInner":0,"paddingOuter":0},"axis":{"grid":true,"bandPosition":0,"labels":false,"ticks":false,"domain":false,"title":null,"gridColor":"#D4D4D4"}},
     "text": {"field":"t"}}},
   {"data": {"values": [{"t":"11-Dec"}]}, "mark": {"type":"text","color":"#FFFFFF","fontWeight":"bold","fontSize":6.5,"align":"right","dx":-1},
    "encoding": {"x": {"datum":"c","type":"nominal","bandPosition":1,"scale":{"type":"band","paddingInner":0,"paddingOuter":0},"axis":null},
     "y": {"datum":"h2","type":"nominal","scale":{"type":"band","domain":["h1","h2","1","2","3","4","5","6","7","Total"],"paddingInner":0,"paddingOuter":0},"axis":{"grid":true,"bandPosition":0,"labels":false,"ticks":false,"domain":false,"title":null,"gridColor":"#D4D4D4"}},
     "text": {"field":"t"}}},
   {"data": {"name":"tbl"}, "mark": {"type":"text","color":"#404040","align":"right","dx":-1.5},
    "encoding": {"x": {"datum":"c","type":"nominal","bandPosition":1,"scale":{"type":"band","paddingInner":0,"paddingOuter":0},"axis":null},
     "y": {"field":"r","type":"nominal","scale":{"type":"band","domain":["h1","h2","1","2","3","4","5","6","7","Total"],"paddingInner":0,"paddingOuter":0},"axis":{"grid":true,"bandPosition":0,"labels":false,"ticks":false,"domain":false,"title":null,"gridColor":"#D4D4D4"}},
     "text": {"field":"tg"}}}
  ]}
 ],
 "spacing": 0,
 "bounds": "flush"
},
{
 "hconcat": [
  {"width": 4, "height": 1, "data": {"values": []}, "mark": {"type":"point","opacity":0}},
  {"vconcat": [
    {"width": 1, "height": 1, "data": {"values": []}, "mark": {"type":"point","opacity":0}},
    {"width": 199.5, "height": 142, "view": {"stroke": "#9A9A9A"}, "data": {"name":"ach"}, "layer": [
      {"mark": {"type":"line","strokeWidth":1.6},
       "encoding": {
        "x": {"field":"d","type":"nominal","scale":{"type":"band","domain":["6-Dec","7-Dec","8-Dec","9-Dec","10-Dec","11-Dec","12-Dec"],"range":[19,152],"paddingInner":0,"paddingOuter":0},"axis":{"title":null,"labelAngle":0,"tickBand":"extent","labelExpr":"length(datum.label) > 5 ? [slice(datum.label, 0, 3), 'Dec'] : datum.label","domainColor":"#868686","tickColor":"#868686","tickSize":3,"labelFontSize":6.5,"labelColor":"#404040","labelPadding":2,"labelLineHeight":8,"grid":false,"offset":-25}},
        "y": {"field":"n","type":"quantitative","scale":{"domain":[0,8],"range":[117,7],"nice":false},"axis":{"title":null,"values":[0,1,2,3,4,5,6,7,8],"grid":true,"gridColor":"#D9D9D9","domainColor":"#868686","tickColor":"#868686","tickSize":3,"labelFontSize":6.5,"labelColor":"#404040","labelPadding":2,"offset":-19}},
        "color": {"field":"s","type":"nominal","scale":{"domain":["Target","Aktual"],"range":["#4A7EBB","#BE4B48"]},
         "legend": {"orient":"none","legendX":161,"legendY":57,"title":null,"labelFontSize":7,"labelColor":"#404040","symbolSize":144,"rowPadding":0,"labelOffset":2,
          "encode":{"symbols":{"update":{"shape":{"signal":"datum.value === 'Target' ? 'M-1,0H1M0,-0.4L0.4,0L0,0.4L-0.4,0Z' : 'M-1,0H1M-0.45,-0.45H0.45V0.45H-0.45Z'"},"fill":{"signal":"datum.value === 'Target' ? '#4A7EBB' : '#C0504D'"},"stroke":{"signal":"datum.value === 'Target' ? '#4A7EBB' : '#BE4B48'"},"strokeWidth":{"value":1.5},"opacity":{"value":1},"fillOpacity":{"value":1}}}}}}
       }},
      {"transform":[{"filter":"datum.s === 'Target'"}], "mark": {"type":"point","shape":"diamond","filled":true,"size":30,"color":"#4A7EBB","opacity":1},
       "encoding": {
        "x": {"field":"d","type":"nominal","scale":{"type":"band","domain":["6-Dec","7-Dec","8-Dec","9-Dec","10-Dec","11-Dec","12-Dec"],"range":[19,152],"paddingInner":0,"paddingOuter":0}},
        "y": {"field":"n","type":"quantitative","scale":{"domain":[0,8],"range":[117,7],"nice":false}}}},
      {"transform":[{"filter":"datum.s === 'Target'"}], "mark": {"type":"text","dy":-9,"color":"#5277A8","fontSize":7},
       "encoding": {
        "x": {"field":"d","type":"nominal","scale":{"type":"band","domain":["6-Dec","7-Dec","8-Dec","9-Dec","10-Dec","11-Dec","12-Dec"],"range":[19,152],"paddingInner":0,"paddingOuter":0}},
        "y": {"field":"n","type":"quantitative","scale":{"domain":[0,8],"range":[117,7],"nice":false}},
        "text": {"field":"n"}}},
      {"transform":[{"filter":"datum.s === 'Aktual'"}], "mark": {"type":"square","filled":true,"size":44,"color":"#C0504D","stroke":"#963C3A","strokeWidth":0.6,"opacity":1},
       "encoding": {
        "x": {"field":"d","type":"nominal","scale":{"type":"band","domain":["6-Dec","7-Dec","8-Dec","9-Dec","10-Dec","11-Dec","12-Dec"],"range":[19,152],"paddingInner":0,"paddingOuter":0}},
        "y": {"field":"n","type":"quantitative","scale":{"domain":[0,8],"range":[117,7],"nice":false}}}},
      {"transform":[{"filter":"datum.s === 'Aktual'"}], "mark": {"type":"text","dx":7,"align":"left","color":"#E8302C","fontSize":7},
       "encoding": {
        "x": {"field":"d","type":"nominal","scale":{"type":"band","domain":["6-Dec","7-Dec","8-Dec","9-Dec","10-Dec","11-Dec","12-Dec"],"range":[19,152],"paddingInner":0,"paddingOuter":0}},
        "y": {"field":"n","type":"quantitative","scale":{"domain":[0,8],"range":[117,7],"nice":false}},
        "text": {"field":"n"}}}
    ]}
   ], "spacing": 0, "bounds": "flush", "resolve": {"scale": {"color": "independent"}, "legend": {"color": "independent"}}},
  {"width": 18.5, "height": 1, "data": {"values": []}, "mark": {"type":"point","opacity":0}},
  {"vconcat": [
    {"width": 1, "height": 21, "data": {"values": []}, "mark": {"type":"point","opacity":0}},
    {"hconcat": [
      {"width": 42, "height": 28.3, "view": {"stroke": "#A6A6A6"}, "data": {"values": [{"s":"h","t":"Pencapaian"},{"s":"Target","t":"Target"},{"s":"Aktual","t":"Aktual"}]},
       "mark": {"type":"text","align":"left","dx":1.5,"color":"#404040"},
       "encoding": {"x": {"datum":"c","type":"nominal","bandPosition":0,"scale":{"type":"band","paddingInner":0,"paddingOuter":0},"axis":null},
        "y": {"field":"s","type":"nominal","scale":{"type":"band","domain":["h","Target","Aktual"],"paddingInner":0,"paddingOuter":0},"axis":{"grid":true,"bandPosition":0,"labels":false,"ticks":false,"domain":false,"title":null,"gridColor":"#A6A6A6"}},
        "text": {"field":"t"}}},
      {"width": 86, "height": 28.3, "view": {"stroke": "#A6A6A6"}, "layer": [
        {"data": {"name":"days"}, "transform": [{"filter": {"field":"d","oneOf":["6-Dec","7-Dec","8-Dec","9-Dec"]}}], "mark": {"type":"rect","fill":"#D9D9D9","stroke":"#A6A6A6","strokeWidth":0.8},
         "encoding": {"x": {"field":"d","type":"nominal","scale":{"type":"band","domain":["6-Dec","7-Dec","8-Dec","9-Dec"],"paddingInner":0,"paddingOuter":0},"axis":{"grid":true,"bandPosition":0,"labels":false,"ticks":false,"domain":false,"title":null,"gridColor":"#A6A6A6"}},
          "y": {"datum":"h","type":"nominal","scale":{"type":"band","domain":["h","Target","Aktual"],"paddingInner":0,"paddingOuter":0},"axis":{"grid":true,"bandPosition":0,"labels":false,"ticks":false,"domain":false,"title":null,"gridColor":"#A6A6A6"}}}},
        {"data": {"name":"days"}, "transform": [{"filter": {"field":"d","oneOf":["6-Dec","7-Dec","8-Dec","9-Dec"]}}], "mark": {"type":"text","fontSize":6.5,"color":"#404040"},
         "encoding": {"x": {"field":"d","type":"nominal","scale":{"type":"band","domain":["6-Dec","7-Dec","8-Dec","9-Dec"],"paddingInner":0,"paddingOuter":0},"axis":{"grid":true,"bandPosition":0,"labels":false,"ticks":false,"domain":false,"title":null,"gridColor":"#A6A6A6"}},
          "y": {"datum":"h","type":"nominal","scale":{"type":"band","domain":["h","Target","Aktual"],"paddingInner":0,"paddingOuter":0},"axis":{"grid":true,"bandPosition":0,"labels":false,"ticks":false,"domain":false,"title":null,"gridColor":"#A6A6A6"}},
          "text": {"field":"d"}}},
        {"data": {"name":"ach"}, "transform": [{"filter": {"field":"d","oneOf":["6-Dec","7-Dec","8-Dec","9-Dec"]}}], "mark": {"type":"text","align":"right","dx":-1.5,"color":"#404040"},
         "encoding": {"x": {"field":"d","type":"nominal","bandPosition":1,"scale":{"type":"band","domain":["6-Dec","7-Dec","8-Dec","9-Dec"],"paddingInner":0,"paddingOuter":0},"axis":{"grid":true,"bandPosition":0,"labels":false,"ticks":false,"domain":false,"title":null,"gridColor":"#A6A6A6"}},
          "y": {"field":"s","type":"nominal","scale":{"type":"band","domain":["h","Target","Aktual"],"paddingInner":0,"paddingOuter":0},"axis":{"grid":true,"bandPosition":0,"labels":false,"ticks":false,"domain":false,"title":null,"gridColor":"#A6A6A6"}},
          "text": {"field":"n"}}}
      ]},
      {"width": 75.7, "height": 28.3, "view": {"stroke": "#A6A6A6"}, "layer": [
        {"data": {"name":"days"}, "transform": [{"filter": {"field":"d","oneOf":["10-Dec","11-Dec","12-Dec"]}}], "mark": {"type":"rect","fill":"#D9D9D9","stroke":"#A6A6A6","strokeWidth":0.8},
         "encoding": {"x": {"field":"d","type":"nominal","scale":{"type":"band","domain":["10-Dec","11-Dec","12-Dec"],"paddingInner":0,"paddingOuter":0},"axis":{"grid":true,"bandPosition":0,"labels":false,"ticks":false,"domain":false,"title":null,"gridColor":"#A6A6A6"}},
          "y": {"datum":"h","type":"nominal","scale":{"type":"band","domain":["h","Target","Aktual"],"paddingInner":0,"paddingOuter":0},"axis":{"grid":true,"bandPosition":0,"labels":false,"ticks":false,"domain":false,"title":null,"gridColor":"#A6A6A6"}}}},
        {"data": {"name":"days"}, "transform": [{"filter": {"field":"d","oneOf":["10-Dec","11-Dec","12-Dec"]}}], "mark": {"type":"text","fontSize":6.5,"color":"#404040"},
         "encoding": {"x": {"field":"d","type":"nominal","scale":{"type":"band","domain":["10-Dec","11-Dec","12-Dec"],"paddingInner":0,"paddingOuter":0},"axis":{"grid":true,"bandPosition":0,"labels":false,"ticks":false,"domain":false,"title":null,"gridColor":"#A6A6A6"}},
          "y": {"datum":"h","type":"nominal","scale":{"type":"band","domain":["h","Target","Aktual"],"paddingInner":0,"paddingOuter":0},"axis":{"grid":true,"bandPosition":0,"labels":false,"ticks":false,"domain":false,"title":null,"gridColor":"#A6A6A6"}},
          "text": {"field":"d"}}},
        {"data": {"name":"ach"}, "transform": [{"filter": {"field":"d","oneOf":["10-Dec","11-Dec","12-Dec"]}}], "mark": {"type":"text","align":"right","dx":-1.5,"color":"#404040"},
         "encoding": {"x": {"field":"d","type":"nominal","bandPosition":1,"scale":{"type":"band","domain":["10-Dec","11-Dec","12-Dec"],"paddingInner":0,"paddingOuter":0},"axis":{"grid":true,"bandPosition":0,"labels":false,"ticks":false,"domain":false,"title":null,"gridColor":"#A6A6A6"}},
          "y": {"field":"s","type":"nominal","scale":{"type":"band","domain":["h","Target","Aktual"],"paddingInner":0,"paddingOuter":0},"axis":{"grid":true,"bandPosition":0,"labels":false,"ticks":false,"domain":false,"title":null,"gridColor":"#A6A6A6"}},
          "text": {"field":"n"}}}
      ]}
    ], "spacing": 0, "bounds": "flush"},
    {"width": 1, "height": 12.7, "data": {"values": []}, "mark": {"type":"point","opacity":0}},
    {"hconcat": [
      {"width": 42, "height": 26.5, "view": {"stroke": "#A6A6A6"}, "data": {"values": [{"s":"h","t":"Pencapaian"},{"s":"Target","t":"Target"},{"s":"Aktual","t":"Aktual"}]},
       "mark": {"type":"text","align":"left","dx":1.5,"color":"#404040"},
       "encoding": {"x": {"datum":"c","type":"nominal","bandPosition":0,"scale":{"type":"band","paddingInner":0,"paddingOuter":0},"axis":null},
        "y": {"field":"s","type":"nominal","scale":{"type":"band","domain":["h","Target","Aktual"],"paddingInner":0,"paddingOuter":0},"axis":{"grid":true,"bandPosition":0,"labels":false,"ticks":false,"domain":false,"title":null,"gridColor":"#A6A6A6"}},
        "text": {"field":"t"}}},
      {"width": 86, "height": 26.5, "view": {"stroke": "#A6A6A6"}, "layer": [
        {"data": {"name":"days"}, "transform": [{"filter": {"field":"d","oneOf":["6-Dec","7-Dec","8-Dec","9-Dec"]}}], "mark": {"type":"rect","fill":"#D9D9D9","stroke":"#A6A6A6","strokeWidth":0.8},
         "encoding": {"x": {"field":"d","type":"nominal","scale":{"type":"band","domain":["6-Dec","7-Dec","8-Dec","9-Dec"],"paddingInner":0,"paddingOuter":0},"axis":{"grid":true,"bandPosition":0,"labels":false,"ticks":false,"domain":false,"title":null,"gridColor":"#A6A6A6"}},
          "y": {"datum":"h","type":"nominal","scale":{"type":"band","domain":["h","Target","Aktual"],"paddingInner":0,"paddingOuter":0},"axis":{"grid":true,"bandPosition":0,"labels":false,"ticks":false,"domain":false,"title":null,"gridColor":"#A6A6A6"}}}},
        {"data": {"name":"days"}, "transform": [{"filter": {"field":"d","oneOf":["6-Dec","7-Dec","8-Dec","9-Dec"]}}], "mark": {"type":"text","fontSize":6.5,"color":"#404040"},
         "encoding": {"x": {"field":"d","type":"nominal","scale":{"type":"band","domain":["6-Dec","7-Dec","8-Dec","9-Dec"],"paddingInner":0,"paddingOuter":0},"axis":{"grid":true,"bandPosition":0,"labels":false,"ticks":false,"domain":false,"title":null,"gridColor":"#A6A6A6"}},
          "y": {"datum":"h","type":"nominal","scale":{"type":"band","domain":["h","Target","Aktual"],"paddingInner":0,"paddingOuter":0},"axis":{"grid":true,"bandPosition":0,"labels":false,"ticks":false,"domain":false,"title":null,"gridColor":"#A6A6A6"}},
          "text": {"field":"d"}}},
        {"data": {"name":"ach"}, "transform": [{"filter": {"field":"d","oneOf":["6-Dec","7-Dec","8-Dec","9-Dec"]}}], "mark": {"type":"text","align":"right","dx":-1.5,"color":"#404040"},
         "encoding": {"x": {"field":"d","type":"nominal","bandPosition":1,"scale":{"type":"band","domain":["6-Dec","7-Dec","8-Dec","9-Dec"],"paddingInner":0,"paddingOuter":0},"axis":{"grid":true,"bandPosition":0,"labels":false,"ticks":false,"domain":false,"title":null,"gridColor":"#A6A6A6"}},
          "y": {"field":"s","type":"nominal","scale":{"type":"band","domain":["h","Target","Aktual"],"paddingInner":0,"paddingOuter":0},"axis":{"grid":true,"bandPosition":0,"labels":false,"ticks":false,"domain":false,"title":null,"gridColor":"#A6A6A6"}},
          "text": {"field":"p","format":".0%"}}}
      ]},
      {"width": 75.7, "height": 26.5, "view": {"stroke": "#A6A6A6"}, "layer": [
        {"data": {"name":"days"}, "transform": [{"filter": {"field":"d","oneOf":["10-Dec","11-Dec","12-Dec"]}}], "mark": {"type":"rect","fill":"#D9D9D9","stroke":"#A6A6A6","strokeWidth":0.8},
         "encoding": {"x": {"field":"d","type":"nominal","scale":{"type":"band","domain":["10-Dec","11-Dec","12-Dec"],"paddingInner":0,"paddingOuter":0},"axis":{"grid":true,"bandPosition":0,"labels":false,"ticks":false,"domain":false,"title":null,"gridColor":"#A6A6A6"}},
          "y": {"datum":"h","type":"nominal","scale":{"type":"band","domain":["h","Target","Aktual"],"paddingInner":0,"paddingOuter":0},"axis":{"grid":true,"bandPosition":0,"labels":false,"ticks":false,"domain":false,"title":null,"gridColor":"#A6A6A6"}}}},
        {"data": {"name":"days"}, "transform": [{"filter": {"field":"d","oneOf":["10-Dec","11-Dec","12-Dec"]}}], "mark": {"type":"text","fontSize":6.5,"color":"#404040"},
         "encoding": {"x": {"field":"d","type":"nominal","scale":{"type":"band","domain":["10-Dec","11-Dec","12-Dec"],"paddingInner":0,"paddingOuter":0},"axis":{"grid":true,"bandPosition":0,"labels":false,"ticks":false,"domain":false,"title":null,"gridColor":"#A6A6A6"}},
          "y": {"datum":"h","type":"nominal","scale":{"type":"band","domain":["h","Target","Aktual"],"paddingInner":0,"paddingOuter":0},"axis":{"grid":true,"bandPosition":0,"labels":false,"ticks":false,"domain":false,"title":null,"gridColor":"#A6A6A6"}},
          "text": {"field":"d"}}},
        {"data": {"name":"ach"}, "transform": [{"filter": {"field":"d","oneOf":["10-Dec","11-Dec","12-Dec"]}}], "mark": {"type":"text","align":"right","dx":-1.5,"color":"#404040"},
         "encoding": {"x": {"field":"d","type":"nominal","bandPosition":1,"scale":{"type":"band","domain":["10-Dec","11-Dec","12-Dec"],"paddingInner":0,"paddingOuter":0},"axis":{"grid":true,"bandPosition":0,"labels":false,"ticks":false,"domain":false,"title":null,"gridColor":"#A6A6A6"}},
          "y": {"field":"s","type":"nominal","scale":{"type":"band","domain":["h","Target","Aktual"],"paddingInner":0,"paddingOuter":0},"axis":{"grid":true,"bandPosition":0,"labels":false,"ticks":false,"domain":false,"title":null,"gridColor":"#A6A6A6"}},
          "text": {"field":"p","format":".0%"}}}
      ]}
    ], "spacing": 0, "bounds": "flush"}
   ], "spacing": 0, "bounds": "full"},
  {"width": 11, "height": 1, "data": {"values": []}, "mark": {"type":"point","opacity":0}},
  {"vconcat": [
    {"width": 1, "height": 1, "data": {"values": []}, "mark": {"type":"point","opacity":0}},
    {"width": 203.3, "height": 143, "view": {"stroke": "#9A9A9A"}, "data": {"name":"ach"}, "layer": [
      {"mark": {"type":"line","strokeWidth":1.4},
       "encoding": {
        "x": {"field":"d","type":"nominal","scale":{"type":"band","domain":["6-Dec","7-Dec","8-Dec","9-Dec","10-Dec","11-Dec","12-Dec"],"range":[26,151.3],"paddingInner":0,"paddingOuter":0},"axis":{"title":null,"labelAngle":-45,"tickBand":"extent","domainColor":"#868686","tickColor":"#868686","tickSize":3,"labelFontSize":6.5,"labelColor":"#404040","labelPadding":2,"grid":false,"offset":-28.7}},
        "y": {"field":"p","type":"quantitative","scale":{"domain":[0,1.2],"range":[114.3,7.3],"nice":false},"axis":{"title":null,"values":[0,0.2,0.4,0.6,0.8,1,1.2],"format":".0%","grid":true,"gridColor":"#D9D9D9","domainColor":"#868686","tickColor":"#868686","tickSize":3,"labelFontSize":6.5,"labelColor":"#404040","labelPadding":2,"offset":-26}},
        "color": {"field":"s","type":"nominal","scale":{"domain":["Target","Aktual"],"range":["#404040","#A6A6A6"]},
         "legend": {"orient":"none","legendX":162,"legendY":58,"title":null,"labelFontSize":7,"labelColor":"#404040","symbolSize":100,"rowPadding":1.5,"labelOffset":2,
          "encode":{"symbols":{"update":{"shape":{"signal":"datum.value === 'Target' ? 'M-1,0H1M0,-0.4L0.4,0L0,0.4L-0.4,0Z' : 'M-1,0H1M-0.55,-0.55H0.55V0.55H-0.55Z'"},"fill":{"signal":"datum.value === 'Target' ? '#404040' : '#A6A6A6'"},"stroke":{"signal":"datum.value === 'Target' ? '#404040' : '#A6A6A6'"},"strokeWidth":{"value":1.4},"opacity":{"value":1},"fillOpacity":{"value":1}}}}}}
       }},
      {"transform":[{"filter":"datum.s === 'Target'"}], "mark": {"type":"point","shape":"diamond","filled":true,"size":26,"color":"#404040","opacity":1},
       "encoding": {
        "x": {"field":"d","type":"nominal","scale":{"type":"band","domain":["6-Dec","7-Dec","8-Dec","9-Dec","10-Dec","11-Dec","12-Dec"],"range":[26,151.3],"paddingInner":0,"paddingOuter":0}},
        "y": {"field":"p","type":"quantitative","scale":{"domain":[0,1.2],"range":[114.3,7.3],"nice":false}}}},
      {"transform":[{"filter":"datum.s === 'Target'"}], "mark": {"type":"text","dy":-8,"color":"#00B0F0","fontSize":7},
       "encoding": {
        "x": {"field":"d","type":"nominal","scale":{"type":"band","domain":["6-Dec","7-Dec","8-Dec","9-Dec","10-Dec","11-Dec","12-Dec"],"range":[26,151.3],"paddingInner":0,"paddingOuter":0}},
        "y": {"field":"p","type":"quantitative","scale":{"domain":[0,1.2],"range":[114.3,7.3],"nice":false}},
        "text": {"field":"p","format":".0%"}}},
      {"transform":[{"filter":"datum.s === 'Aktual'"}], "mark": {"type":"square","filled":true,"size":50,"color":"#A6A6A6","opacity":1},
       "encoding": {
        "x": {"field":"d","type":"nominal","scale":{"type":"band","domain":["6-Dec","7-Dec","8-Dec","9-Dec","10-Dec","11-Dec","12-Dec"],"range":[26,151.3],"paddingInner":0,"paddingOuter":0}},
        "y": {"field":"p","type":"quantitative","scale":{"domain":[0,1.2],"range":[114.3,7.3],"nice":false}}}},
      {"transform":[{"filter":"datum.s === 'Aktual'"}], "mark": {"type":"text","dx":6,"align":"left","color":"#FF0000","fontSize":7},
       "encoding": {
        "x": {"field":"d","type":"nominal","scale":{"type":"band","domain":["6-Dec","7-Dec","8-Dec","9-Dec","10-Dec","11-Dec","12-Dec"],"range":[26,151.3],"paddingInner":0,"paddingOuter":0}},
        "y": {"field":"p","type":"quantitative","scale":{"domain":[0,1.2],"range":[114.3,7.3],"nice":false}},
        "text": {"field":"p","format":".0%"}}}
    ]}
   ], "spacing": 0, "bounds": "flush", "resolve": {"scale": {"color": "independent"}, "legend": {"color": "independent"}}}
 ],
 "spacing": 0,
 "bounds": "full",
 "resolve": {"scale": {"color": "independent"}, "legend": {"color": "independent"}}
}
]
}
